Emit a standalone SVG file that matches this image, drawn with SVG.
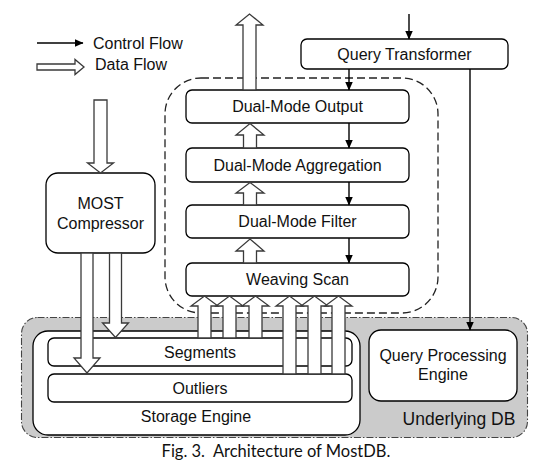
<svg xmlns="http://www.w3.org/2000/svg" width="542" height="475" viewBox="0 0 542 475">
<defs>
<marker id="ah" markerWidth="9" markerHeight="8" refX="8.5" refY="4" orient="auto" markerUnits="userSpaceOnUse">
<path d="M0,0 L9,4 L0,8 Z" fill="#000"/>
</marker>
<style>
.t{font-family:"Liberation Sans",Arial,sans-serif;font-size:16px;fill:#111;text-anchor:middle}
.box{fill:#fff;stroke:#000;stroke-width:1.3}
.ha{fill:#fff;stroke:#3a3a3a;stroke-width:1.3;stroke-linejoin:miter}
.cl{stroke:#000;stroke-width:1.4;fill:none;marker-end:url(#ah)}
</style>
</defs>
<rect width="542" height="475" fill="#fff"/>

<g id="legend">
<line class="cl" x1="37" y1="43" x2="83" y2="43"/>
<text class="t" x="93" y="49" style="text-anchor:start">Control Flow</text>
<polygon class="ha" points="37,64 75,64 75,59.5 84,67 75,74.5 75,70 37,70"/>
<text class="t" x="95" y="70" style="text-anchor:start">Data Flow</text>
</g>

<g id="underlying-db">
<rect x="21.5" y="317.5" width="506" height="120" rx="16" fill="#cbcbcb" stroke="#444" stroke-width="1.1" stroke-dasharray="7,2,1.5,2"/>
<text class="t" x="459" y="425" style="font-size:17.5px">Underlying DB</text>
</g>

<g id="storage-engine">
<rect class="box" x="33" y="331" width="327" height="104" rx="15"/>
<text class="t" x="196" y="422">Storage Engine</text>
</g>

<g id="segments">
<rect class="box" x="48" y="338" width="304" height="28" rx="6"/>
<text class="t" x="200" y="358">Segments</text>
</g>

<g id="outliers">
<rect class="box" x="48" y="374" width="304" height="28" rx="6"/>
<text class="t" x="200" y="394">Outliers</text>
</g>

<g id="query-processing-engine">
<rect class="box" x="369" y="330" width="148" height="71" rx="12"/>
<text class="t" x="443" y="361">Query Processing</text>
<text class="t" x="443" y="380">Engine</text>
</g>

<g id="mostdb-region">
<rect x="165" y="78" width="273" height="235" rx="36" fill="none" stroke="#222" stroke-width="1.3" stroke-dasharray="8,4"/>
</g>

<g id="query-transformer">
<rect class="box" x="301" y="39" width="207" height="30" rx="6"/>
<text class="t" x="404.5" y="60">Query Transformer</text>
</g>

<g id="dual-mode-output">
<rect class="box" x="186" y="90" width="223" height="33" rx="6"/>
<text class="t" x="297.5" y="112">Dual-Mode Output</text>
</g>

<g id="dual-mode-aggregation">
<rect class="box" x="186" y="148" width="223" height="34" rx="6"/>
<text class="t" x="297.5" y="170.5">Dual-Mode Aggregation</text>
</g>

<g id="dual-mode-filter">
<rect class="box" x="186" y="205" width="223" height="33" rx="6"/>
<text class="t" x="297.5" y="227">Dual-Mode Filter</text>
</g>

<g id="weaving-scan">
<rect class="box" x="186" y="263" width="223" height="33" rx="6"/>
<text class="t" x="297.5" y="285">Weaving Scan</text>
</g>

<g id="most-compressor">
<rect class="box" x="46" y="173" width="109" height="80" rx="12"/>
<text class="t" x="100.5" y="209">MOST</text>
<text class="t" x="100.5" y="229">Compressor</text>
</g>

<g id="connectors">
<!-- control flow -->
<line class="cl" x1="409" y1="14" x2="409" y2="39"/>
<line class="cl" x1="349" y1="69" x2="349" y2="90"/>
<line class="cl" x1="349" y1="123" x2="349" y2="148"/>
<line class="cl" x1="349" y1="182" x2="349" y2="205"/>
<line class="cl" x1="349" y1="238" x2="349" y2="263"/>
<line class="cl" x1="470" y1="69" x2="470" y2="330"/>
<!-- data flow -->
<polygon class="ha" points="243,90 243,25 236,25 249.5,14 263,25 256,25 256,90"/>
<polygon class="ha" points="243.5,148 243.5,135 236,135 250,123.5 264,135 256.5,135 256.5,148"/>
<polygon class="ha" points="243.5,205 243.5,193 236,193 250,182.5 264,193 256.5,193 256.5,205"/>
<polygon class="ha" points="243.5,263 243.5,251 236,251 250,239 264,251 256.5,251 256.5,263"/>
<polygon class="ha" points="94,100 94,163 87.5,163 100.5,173 113.5,163 107,163 107,100"/>
<polygon class="ha" points="81,253 81,358 74,358 87,373 100,358 93,358 93,253"/>
<polygon class="ha" points="109.5,253 109.5,323 102.5,323 115.5,337.5 128.5,323 121.5,323 121.5,253"/>
<polygon class="ha" points="198,338 198,306 191,306 204.5,296 218,306 211,306 211,338"/>
<polygon class="ha" points="223,338 223,306 216,306 229.5,296 243,306 236,306 236,338"/>
<polygon class="ha" points="249,338 249,306 242,306 255.5,296 269,306 262,306 262,338"/>
<polygon class="ha" points="283,374 283,306 276,306 289.5,296 303,306 296,306 296,374"/>
<polygon class="ha" points="308,374 308,306 301,306 314.5,296 328,306 321,306 321,374"/>
<polygon class="ha" points="332,374 332,306 325,306 338.5,296 352,306 345,306 345,374"/>
</g>

<text x="276" y="457" style="font-family:Lato,'Liberation Sans',sans-serif;font-size:16.5px;fill:#111;text-anchor:middle;white-space:pre">Fig. 3.  Architecture of MostDB.</text>
</svg>
